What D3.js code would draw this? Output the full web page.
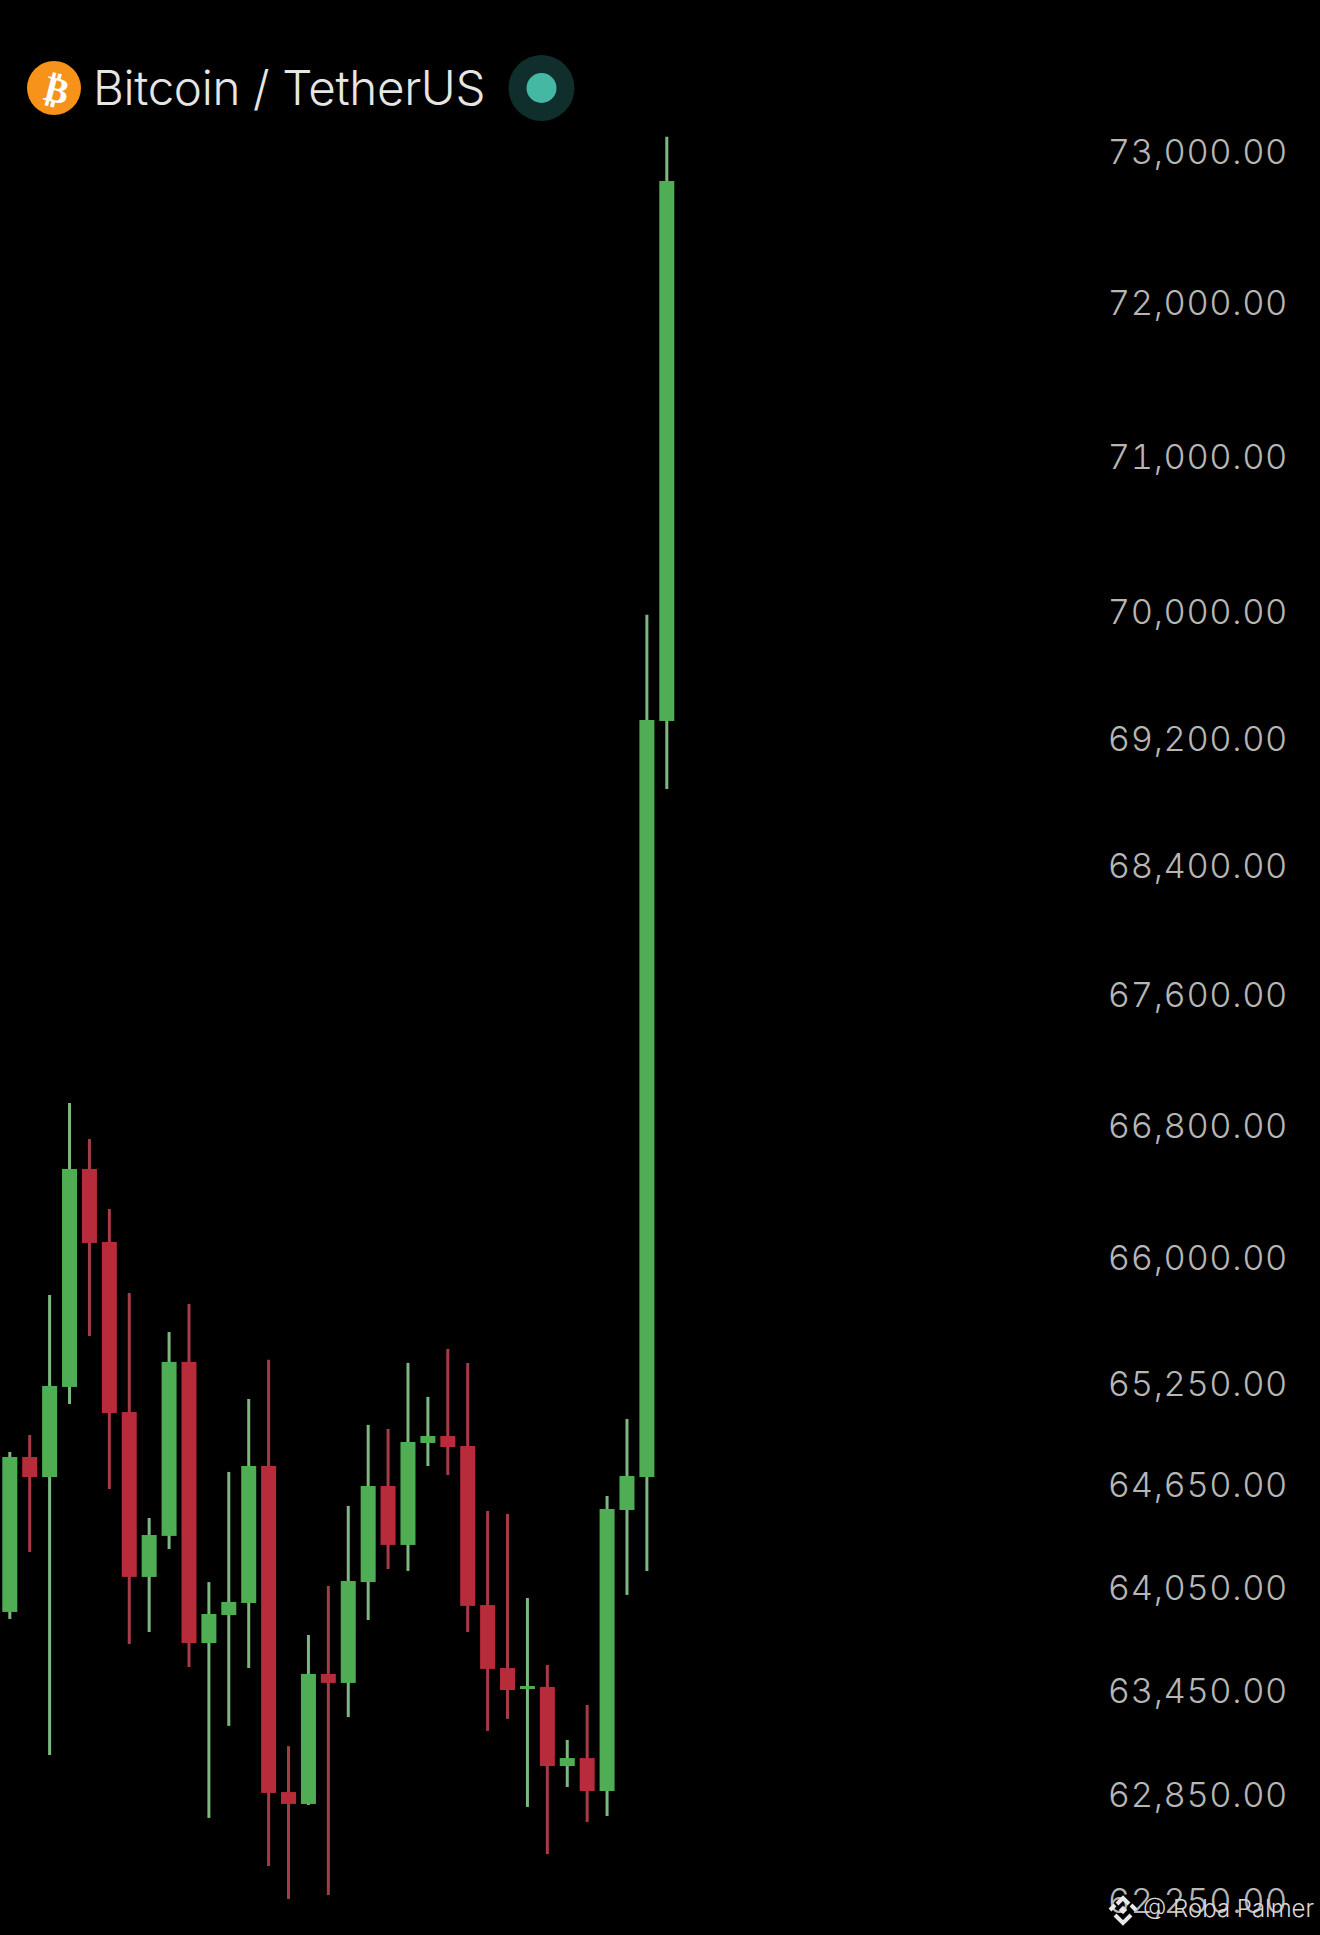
<!DOCTYPE html>
<html><head><meta charset="utf-8">
<style>html,body{margin:0;padding:0;background:#000}svg{display:block}text{font-family:Inter,"Liberation Sans",sans-serif}</style>
<script src="https://cdn.jsdelivr.net/npm/d3@7/dist/d3.min.js"></script>
</head><body><div id="chart"></div>
<script>
const title = "Bitcoin / TetherUS";
const watermark = "@ Roba Palmer";
const tickLabels = [73000,72000,71000,70000,69200,68400,67600,66800,66000,65250,64650,64050,63450,62850,62250];
const opens  = [63905,64813,64695,65228,66536,66095,65079,64109,64349,65377,63724,63887,63957,64760,62865,62797,63545,63493,64079,64642,64296,64896,64937,64878,63945,63579,63458,63470,63014,63060,62871,64501,64695,69307];
const closes = [64813,64695,65234,66536,66089,65073,64109,64354,65377,63724,63893,63963,64760,62860,62797,63545,63493,64085,64642,64296,64902,64937,64872,63940,63574,63452,63475,63014,63060,62871,64507,64701,69313,72801];
const highs  = [64843,64943,65777,66937,66718,66294,65789,64454,65555,65723,64079,64725,65157,65389,63129,63771,64056,64525,65003,64979,65371,65169,65454,65371,64495,64478,63986,63597,63164,63366,64583,65038,69980,73094];
const lows   = [63864,64255,63078,65127,65531,64625,63719,63788,64272,63585,62717,63245,63579,62443,62256,62791,62278,63296,63858,64155,64144,64760,64707,63788,63216,63285,62780,62511,62894,62694,62728,64004,64144,68879];

const W = 1320, H = 1935;
const svg = d3.select("#chart").append("svg").attr("width", W).attr("height", H).style("background", "#000");
const x = d3.scaleLinear().domain([0, opens.length - 1]).range([9.8, 666.8]);
const y = d3.scaleLog().domain([62250, 73000]).range([1900, 151]);
const candles = d3.range(opens.length);
const isUp = i => closes[i] >= opens[i];
const bodyW = 15, wickW = 3;

svg.append("g").selectAll("line").data(candles).join("line")
  .attr("x1", x).attr("x2", x)
  .attr("y1", i => y(highs[i])).attr("y2", i => y(lows[i]))
  .attr("stroke", i => isUp(i) ? "#7cb880" : "#a53c48").attr("stroke-width", wickW);
svg.append("g").selectAll("rect").data(candles).join("rect")
  .attr("x", i => x(i) - bodyW / 2).attr("width", bodyW)
  .attr("y", i => y(Math.max(opens[i], closes[i])))
  .attr("height", i => Math.max(3, Math.abs(y(opens[i]) - y(closes[i]))))
  .attr("fill", i => isUp(i) ? "#4fae54" : "#b72b3a");

const axis = d3.axisRight(y).tickValues(tickLabels).tickSize(0).tickPadding(0)
  .tickFormat(d3.format(",.2f"));
const gAxis = svg.append("g").attr("transform", "translate(1288,0)").call(axis);
gAxis.select(".domain").remove();
gAxis.selectAll("text").attr("x", 0).attr("text-anchor", "end").attr("dy", "0.35em")
  .attr("font-size", 34.5).style("font-family", "Inter,sans-serif").attr("font-weight", 300)
  .style("font-variant-numeric", "tabular-nums")
  .attr("fill", "#b6b6b6").attr("letter-spacing", 0.6);

// header
svg.append("circle").attr("cx", 54).attr("cy", 88).attr("r", 27).attr("fill", "#f7931a");
svg.append("text").attr("transform", "translate(54,102) rotate(14)").attr("text-anchor", "middle")
  .attr("font-size", 36).style("font-family", "'DejaVu Sans'").attr("font-weight", 700).attr("fill", "#fff").text("\u20BF");
svg.append("text").attr("x", 93).attr("y", 105).attr("font-size", 47.5).attr("font-weight", 300)
  .attr("letter-spacing", -0.35).attr("fill", "#e6e6e6").text(title);
svg.append("circle").attr("cx", 541.5).attr("cy", 88).attr("r", 33).attr("fill", "#0f2e2c");
svg.append("circle").attr("cx", 541.5).attr("cy", 88).attr("r", 15).attr("fill", "#45b8a4");

// watermark
const wm = svg.append("g").attr("transform", "translate(1123,1910)").attr("fill", "none").attr("stroke", "#e8e8e8").attr("stroke-width", 4);
wm.append("path").attr("d", "M-13,0L-8,-5M-8,5L0,13L8,5M13,0L8,-5M-6,-6L0,-12L6,-6");
wm.append("rect").attr("x", -3).attr("y", -3).attr("width", 6).attr("height", 6).attr("transform", "rotate(45)").attr("fill", "#e8e8e8").attr("stroke", "none");
svg.append("text").attr("x", 1143).attr("y", 1917).attr("font-size", 24).attr("font-weight", 300)
  .attr("fill", "#d8d8d8").text(watermark);
</script></body></html>
